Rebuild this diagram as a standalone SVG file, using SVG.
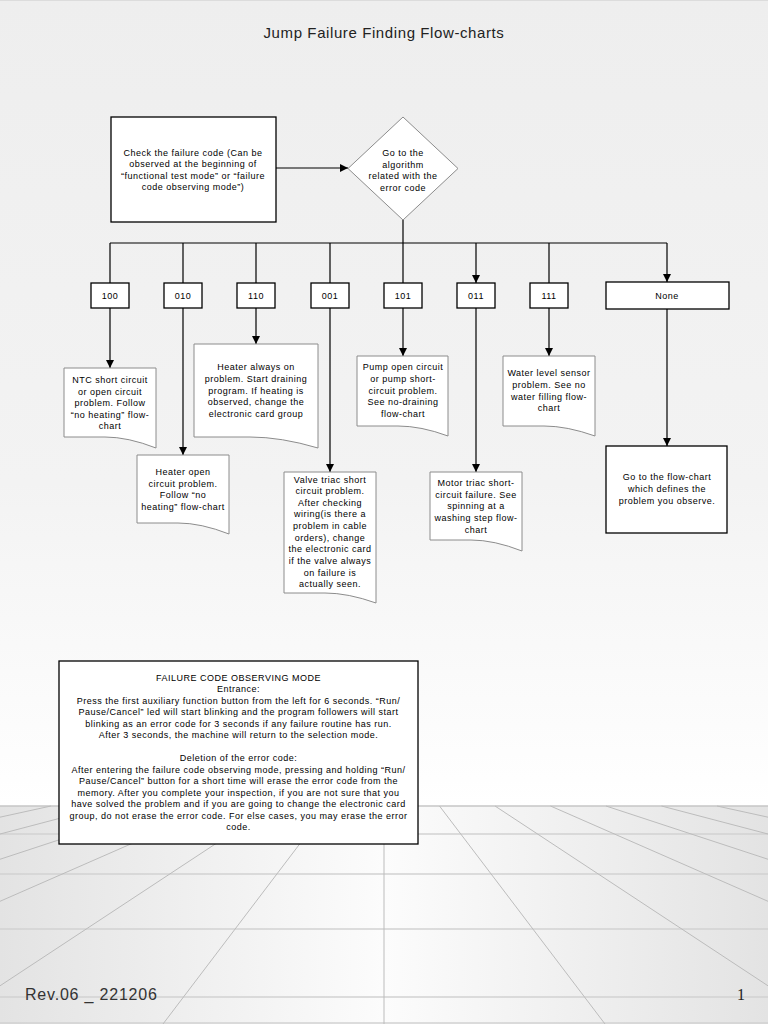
<svg xmlns="http://www.w3.org/2000/svg" width="768" height="1024" viewBox="0 0 768 1024">
<defs>
<linearGradient id="sky" x1="0" y1="0" x2="0" y2="1">
<stop offset="0" stop-color="#eeeeee"/>
<stop offset="0.6" stop-color="#f3f3f3"/>
<stop offset="1" stop-color="#ffffff"/>
</linearGradient>
<linearGradient id="floor" x1="0" y1="0" x2="1" y2="0">
<stop offset="0" stop-color="#e3e3e3"/>
<stop offset="0.5" stop-color="#fcfcfc"/>
<stop offset="1" stop-color="#e3e3e3"/>
</linearGradient>
<marker id="ah" markerUnits="userSpaceOnUse" markerWidth="8" markerHeight="8" refX="8" refY="4" orient="auto">
<path d="M0,0 L8,4 L0,8 z" fill="#000"/>
</marker>
<style>
.t{font-family:"Liberation Sans",Arial,sans-serif;font-size:9px;fill:#000;text-anchor:middle;letter-spacing:0.5px}
.box{fill:#fff;stroke:#000;stroke-width:1.3}
.doc{fill:#fff;stroke:#8c8c8c;stroke-width:1}
.dia{fill:#fff;stroke:#8c8c8c;stroke-width:1}
.c{stroke:#000;stroke-width:1.2;fill:none}
.ca{stroke:#000;stroke-width:1.2;fill:none;marker-end:url(#ah)}
.gh{stroke:#d2d2d2;stroke-width:1.6}
.gd{stroke:#bcbcbc;stroke-width:1}
</style>
</defs>
<g id="background">
<rect x="0" y="0" width="768" height="806" fill="url(#sky)"/>
<line x1="0" y1="0.5" x2="768" y2="0.5" stroke="#dcdcdc"/>
<rect x="0" y="806" width="768" height="218" fill="url(#floor)"/>
<line class="gh" x1="0" y1="806" x2="768" y2="806" style="stroke:#c6c6c6"/>
<line class="gh" x1="0" y1="834" x2="768" y2="834"/>
<line class="gh" x1="0" y1="874" x2="768" y2="874"/>
<line class="gh" x1="0" y1="929" x2="768" y2="929"/>
<line class="gh" x1="0" y1="997" x2="768" y2="997"/>
<line class="gh" x1="0" y1="1023" x2="768" y2="1023"/>
<line class="gd" x1="384" y1="806" x2="384" y2="1024"/>
<line class="gd" x1="439.5" y1="806" x2="605" y2="1024"/>
<line class="gd" x1="495" y1="806" x2="826" y2="1024"/>
<line class="gd" x1="550.5" y1="806" x2="1048" y2="1024"/>
<line class="gd" x1="606" y1="806" x2="1269" y2="1024"/>
<line class="gd" x1="661.5" y1="806" x2="1490" y2="1024"/>
<line class="gd" x1="717" y1="806" x2="1711" y2="1024"/>
<line class="gd" x1="328.5" y1="806" x2="163" y2="1024"/>
<line class="gd" x1="273" y1="806" x2="-58" y2="1024"/>
<line class="gd" x1="217.5" y1="806" x2="-280" y2="1024"/>
<line class="gd" x1="162" y1="806" x2="-501" y2="1024"/>
<line class="gd" x1="106.5" y1="806" x2="-722" y2="1024"/>
<line class="gd" x1="51" y1="806" x2="-943" y2="1024"/>
</g>
<g id="title">
<text x="384" y="38" style="font-family:'Liberation Sans',Arial,sans-serif;font-size:15px;fill:#222;text-anchor:middle;letter-spacing:0.6px">Jump Failure Finding Flow-charts</text>
</g>
<g id="connectors">
<line class="ca" x1="276" y1="168" x2="348" y2="168"/>
<line class="c" x1="403" y1="220" x2="403" y2="243"/>
<line class="c" x1="110" y1="243" x2="667" y2="243"/>
<line class="c" x1="110" y1="243" x2="110" y2="283"/>
<line class="c" x1="183" y1="243" x2="183" y2="283"/>
<line class="c" x1="256" y1="243" x2="256" y2="283"/>
<line class="c" x1="330" y1="243" x2="330" y2="283"/>
<line class="c" x1="403" y1="243" x2="403" y2="283"/>
<line class="ca" x1="476" y1="243" x2="476" y2="283"/>
<line class="c" x1="549" y1="243" x2="549" y2="283"/>
<line class="ca" x1="667" y1="243" x2="667" y2="282"/>
<line class="ca" x1="110" y1="308" x2="110" y2="368"/>
<line class="ca" x1="183" y1="308" x2="183" y2="455"/>
<line class="ca" x1="256" y1="308" x2="256" y2="344"/>
<line class="ca" x1="330" y1="308" x2="330" y2="472"/>
<line class="ca" x1="403" y1="308" x2="403" y2="356"/>
<line class="ca" x1="476" y1="308" x2="476" y2="472"/>
<line class="ca" x1="549" y1="308" x2="549" y2="356"/>
<line class="ca" x1="667" y1="309" x2="667" y2="446"/>
</g>
<g id="check-code">
<rect class="box" x="111" y="117" width="165" height="105"/>
<text class="t" x="193" y="155.5">Check the failure code (Can be</text>
<text class="t" x="193" y="167">observed at the beginning of</text>
<text class="t" x="193" y="178.5">“functional test mode” or “failure</text>
<text class="t" x="193" y="190">code observing mode”)</text>
</g>
<g id="decision">
<polygon class="dia" points="403,117 458,168.5 403,220 348,168.5"/>
<text class="t" x="403" y="156">Go to the</text>
<text class="t" x="403" y="167.5">algorithm</text>
<text class="t" x="403" y="179">related with the</text>
<text class="t" x="403" y="190.5">error code</text>
</g>
<g id="code-100"><rect class="box" x="91" y="283" width="38" height="25"/><text class="t" x="110" y="299">100</text></g>
<g id="code-010"><rect class="box" x="164" y="283" width="38" height="25"/><text class="t" x="183" y="299">010</text></g>
<g id="code-110"><rect class="box" x="237" y="283" width="38" height="25"/><text class="t" x="256" y="299">110</text></g>
<g id="code-001"><rect class="box" x="311" y="283" width="38" height="25"/><text class="t" x="330" y="299">001</text></g>
<g id="code-101"><rect class="box" x="384" y="283" width="38" height="25"/><text class="t" x="403" y="299">101</text></g>
<g id="code-011"><rect class="box" x="457" y="283" width="38" height="25"/><text class="t" x="476" y="299">011</text></g>
<g id="code-111"><rect class="box" x="530" y="283" width="38" height="25"/><text class="t" x="549" y="299">111</text></g>
<g id="code-none"><rect class="box" x="606" y="282" width="123" height="27"/><text class="t" x="667" y="299">None</text></g>
<g id="doc-ntc">
<path class="doc" d="M64,368 H156 V448 Q128,437 105,437 H64 Z"/>
<text class="t" x="110" y="383">NTC short circuit</text>
<text class="t" x="110" y="394.5">or open circuit</text>
<text class="t" x="110" y="406">problem. Follow</text>
<text class="t" x="110" y="417.5">“no heating” flow-</text>
<text class="t" x="110" y="429">chart</text>
</g>
<g id="doc-heater-open">
<path class="doc" d="M137,455 H229 V534 Q201,523 178,523 H137 Z"/>
<text class="t" x="183" y="475">Heater open</text>
<text class="t" x="183" y="486.5">circuit problem.</text>
<text class="t" x="183" y="498">Follow “no</text>
<text class="t" x="183" y="509.5">heating” flow-chart</text>
</g>
<g id="doc-heater-on">
<path class="doc" d="M194,344 H318 V448 Q281,437 250,437 H194 Z"/>
<text class="t" x="256" y="370">Heater always on</text>
<text class="t" x="256" y="382">problem. Start draining</text>
<text class="t" x="256" y="393.5">program. If heating is</text>
<text class="t" x="256" y="405">observed, change the</text>
<text class="t" x="256" y="416.5">electronic card group</text>
</g>
<g id="doc-valve">
<path class="doc" d="M284,472 H376 V603 Q348,593 325,593 H284 Z"/>
<text class="t" x="330" y="482.5">Valve triac short</text>
<text class="t" x="330" y="494">circuit problem.</text>
<text class="t" x="330" y="505.5">After checking</text>
<text class="t" x="330" y="517">wiring(is there a</text>
<text class="t" x="330" y="529">problem in cable</text>
<text class="t" x="330" y="540.5">orders), change</text>
<text class="t" x="330" y="552">the electronic card</text>
<text class="t" x="330" y="564">if the valve always</text>
<text class="t" x="330" y="575.5">on failure is</text>
<text class="t" x="330" y="587">actually seen.</text>
</g>
<g id="doc-pump">
<path class="doc" d="M357,356 H448 V436 Q421,426 398,426 H357 Z"/>
<text class="t" x="403" y="370">Pump open circuit</text>
<text class="t" x="403" y="382">or pump short-</text>
<text class="t" x="403" y="393.5">circuit problem.</text>
<text class="t" x="403" y="405">See no-draining</text>
<text class="t" x="403" y="417">flow-chart</text>
</g>
<g id="doc-motor">
<path class="doc" d="M430,472 H522 V551 Q494,540 471,540 H430 Z"/>
<text class="t" x="476" y="486">Motor triac short-</text>
<text class="t" x="476" y="497.5">circuit failure. See</text>
<text class="t" x="476" y="509">spinning at a</text>
<text class="t" x="476" y="521">washing step flow-</text>
<text class="t" x="476" y="532.5">chart</text>
</g>
<g id="doc-water">
<path class="doc" d="M503,356 H595 V436 Q567,426 544,426 H503 Z"/>
<text class="t" x="549" y="376">Water level sensor</text>
<text class="t" x="549" y="388">problem. See no</text>
<text class="t" x="549" y="400">water filling flow-</text>
<text class="t" x="549" y="411">chart</text>
</g>
<g id="goto-flowchart">
<rect class="box" x="606" y="446" width="121" height="87"/>
<text class="t" x="667" y="480">Go to the flow-chart</text>
<text class="t" x="667" y="492">which defines the</text>
<text class="t" x="667" y="504">problem you observe.</text>
</g>
<g id="observing-mode">
<rect class="box" x="59" y="661" width="359" height="183"/>
<text class="t" x="238.5" y="680.5">FAILURE CODE OBSERVING MODE</text>
<text class="t" x="238.5" y="692">Entrance:</text>
<text class="t" x="238.5" y="703.5">Press the first auxiliary function button from the left for 6 seconds. “Run/</text>
<text class="t" x="238.5" y="715">Pause/Cancel” led will start blinking and the program followers will start</text>
<text class="t" x="238.5" y="726.5">blinking as an error code for 3 seconds if any failure routine has run.</text>
<text class="t" x="238.5" y="738">After 3 seconds, the machine will return to the selection mode.</text>
<text class="t" x="238.5" y="761">Deletion of the error code:</text>
<text class="t" x="238.5" y="772.5">After entering the failure code observing mode, pressing and holding “Run/</text>
<text class="t" x="238.5" y="784">Pause/Cancel” button for a short time will erase the error code from the</text>
<text class="t" x="238.5" y="795.5">memory. After you complete your inspection, if you are not sure that you</text>
<text class="t" x="238.5" y="807">have solved the problem and if you are going to change the electronic card</text>
<text class="t" x="238.5" y="818.5">group, do not erase the error code. For else cases, you may erase the error</text>
<text class="t" x="238.5" y="830">code.</text>
</g>
<g id="footer">
<text x="25" y="1000" style="font-family:'Liberation Sans',Arial,sans-serif;font-size:16px;fill:#333;letter-spacing:0.8px">Rev.06 _ 221206</text>
<text x="737" y="1000" style="font-family:'Liberation Serif','Times New Roman',serif;font-size:16px;fill:#222">1</text>
</g>
</svg>
